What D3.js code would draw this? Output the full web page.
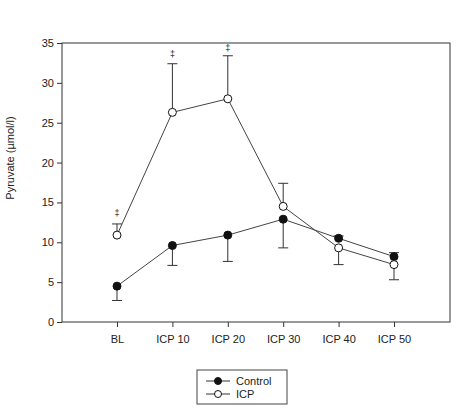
<!DOCTYPE html><html><head><meta charset="utf-8"><script src="https://cdn.jsdelivr.net/npm/d3@7"></script>
<style>body{margin:0;background:#fff}text{font-family:Arial,"Liberation Sans",sans-serif;fill:#222}</style></head><body><svg id="c" width="474" height="417"></svg><script>
const categories=["BL","ICP 10","ICP 20","ICP 30","ICP 40","ICP 50"];
const controlValues=[4.5,9.6,10.9,12.9,10.5,8.2];
const controlErrEnd=[2.7,7.1,7.6,9.3,10.8,8.7];
const icpValues=[10.9,26.3,28.0,14.5,9.3,7.2];
const icpErrEnd=[12.3,32.4,33.4,17.4,7.2,5.3];
const sigMarks=[{cat:"BL",y:13.8},{cat:"ICP 10",y:33.7},{cat:"ICP 20",y:34.5}];
const yTicks=[0,5,10,15,20,25,30,35];
const svg=d3.select("#c");
const L=62,R=450,T=43,B=322;
const x=d3.scalePoint().domain(categories).range([117,394]);
const y=d3.scaleLinear().domain([0,35]).range([B,T]);
const g=svg.append("g");
g.append("rect").attr("x",L).attr("y",T).attr("width",R-L).attr("height",B-T).attr("fill","none").attr("stroke","#333");
const ya=g.append("g").attr("transform",`translate(${L},0)`).call(d3.axisLeft(y).tickValues(yTicks).tickSize(5).tickSizeOuter(0));
const xa=g.append("g").attr("transform",`translate(0,${B})`).call(d3.axisBottom(x).tickSize(5).tickSizeOuter(0));
[ya,xa].forEach(a=>{a.select(".domain").remove();a.selectAll("line").attr("stroke","#333");a.selectAll("text").attr("font-size",11).attr("fill","#222");});
xa.selectAll("text").attr("dy","1.2em");
svg.append("text").attr("transform","translate(14,158) rotate(-90)").attr("text-anchor","middle").attr("font-size",11).text("Pyruvate (µmol/l)");
function series(vals,errs,fill){
  vals.forEach((v,i)=>{const cx=x(categories[i]);
    g.append("line").attr("x1",cx).attr("x2",cx).attr("y1",y(v)).attr("y2",y(errs[i])).attr("stroke","#333");
    g.append("line").attr("x1",cx-5).attr("x2",cx+5).attr("y1",y(errs[i])).attr("y2",y(errs[i])).attr("stroke","#333");});
  g.append("path").datum(vals).attr("fill","none").attr("stroke","#444").attr("d",d3.line().x((d,i)=>x(categories[i])).y(d=>y(d)));
  g.selectAll(null).data(vals).enter().append("circle").attr("cx",(d,i)=>x(categories[i])).attr("cy",d=>y(d)).attr("r",4).attr("fill",fill).attr("stroke","#111");
}
series(controlValues,controlErrEnd,"#111");
series(icpValues,icpErrEnd,"#fff");
sigMarks.forEach(m=>g.append("text").attr("x",x(m.cat)).attr("y",y(m.y)+4).attr("text-anchor","middle").attr("font-size",9).attr("fill","#777").text("‡"));
const lg=svg.append("g");
lg.append("rect").attr("x",197).attr("y",370).attr("width",90).attr("height",34).attr("fill","none").attr("stroke","#444");
[["Control","#111"],["ICP","#fff"]].forEach((d,i)=>{const yy=381+i*13;
  lg.append("line").attr("x1",206).attr("x2",230).attr("y1",yy).attr("y2",yy).attr("stroke","#333");
  lg.append("circle").attr("cx",218).attr("cy",yy).attr("r",3.5).attr("fill",d[1]).attr("stroke","#111");
  lg.append("text").attr("x",236).attr("y",yy+4).attr("font-size",11).text(d[0]);});
</script></body></html>
